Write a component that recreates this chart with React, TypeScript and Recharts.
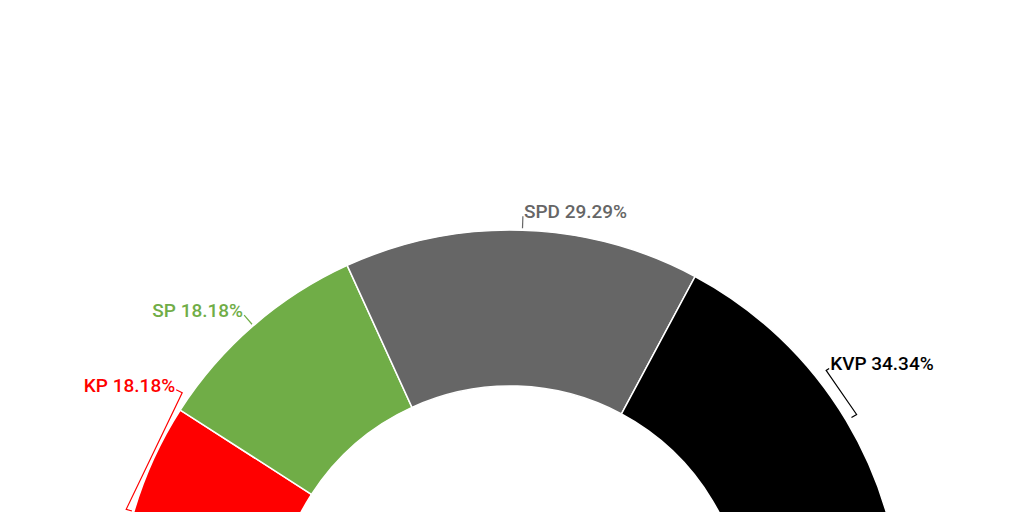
import React from "react";
import { Cell, Pie, PieChart } from "recharts";

const parties = ["KP", "SP", "SPD", "KVP"];
const seats = [18, 18, 29, 34];
const colors = ["#ff0000", "#70ad47", "#666666", "#000000"];

// labels that were nudged along the arc so they stay inside the frame
// (angle in degrees, gap in px outside the ring)
const labelShift: Record<string, { angle: number; gap: number }> = {
  KP: { angle: -18.6, gap: 8 },
  KVP: { angle: 7.6, gap: 12 },
};

const data = parties.map((name, i) => ({ name, value: seats[i] }));
const total = seats.reduce((a, b) => a + b, 0);

const RAD = Math.PI / 180;
const polar = (cx: number, cy: number, r: number, deg: number) => ({
  x: cx + r * Math.cos(-deg * RAD),
  y: cy + r * Math.sin(-deg * RAD),
});

function renderLabel(props: any) {
  const { cx, cy, midAngle, outerRadius, name, value, index } = props;
  const color = colors[index];
  const shift = labelShift[name];
  const text = `${name} ${((value / total) * 100).toFixed(2)}%`;
  let d: string;
  let end: { x: number; y: number };
  let angle = midAngle;
  if (!shift) {
    const a = polar(cx, cy, outerRadius + 2, midAngle);
    end = polar(cx, cy, outerRadius + 14, midAngle);
    d = `M${a.x},${a.y}L${end.x},${end.y}`;
  } else {
    angle = midAngle + shift.angle;
    const a = polar(cx, cy, outerRadius + shift.gap - 6, midAngle);
    const b = polar(cx, cy, outerRadius + shift.gap, midAngle);
    const c = polar(cx, cy, outerRadius + shift.gap, angle);
    const left = Math.cos(midAngle * RAD) < 0;
    end = { x: c.x + (left ? -6 : 3), y: c.y - (left ? 3 : 2) };
    d = `M${a.x},${a.y}L${b.x},${b.y}L${c.x},${c.y}L${end.x},${end.y}`;
  }
  const left = Math.cos(angle * RAD) < 0;
  return (
    <g key={name}>
      <path d={d} fill="none" stroke={color} strokeWidth={1.2} />
      <text
        x={end.x + (left ? -1 : 1)}
        y={end.y + 2}
        textAnchor={left ? "end" : "start"}
        fill={color}
        fontSize={19}
        fontWeight={500}
        fontFamily="Roboto, sans-serif"
      >
        {text}
      </text>
    </g>
  );
}

export default function App() {
  return (
    <div style={{ position: "absolute", left: 0, top: 0, width: 1024, height: 512, background: "#fff" }}>
      <PieChart width={1024} height={512} margin={{ top: 0, right: 0, bottom: 0, left: 0 }}>
        <Pie
          data={data}
          dataKey="value"
          nameKey="name"
          cx={510}
          cy={622}
          startAngle={180}
          endAngle={0}
          innerRadius={236}
          outerRadius={392}
          stroke="#ffffff"
          strokeWidth={1.5}
          label={renderLabel}
          labelLine={false}
          isAnimationActive={false}
        >
          {data.map((d, i) => (
            <Cell key={d.name} fill={colors[i]} />
          ))}
        </Pie>
      </PieChart>
    </div>
  );
}
